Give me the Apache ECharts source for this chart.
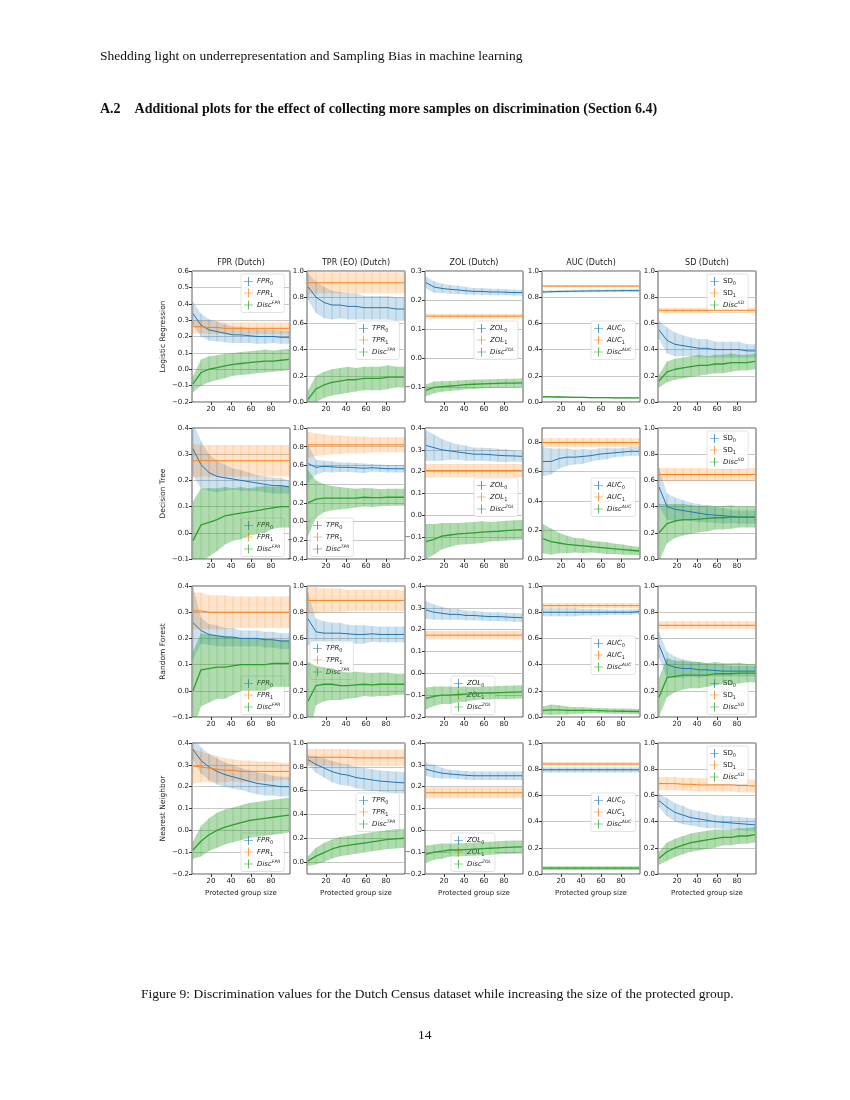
<!DOCTYPE html>
<html>
<head>
<meta charset="utf-8">
<script src="https://cdn.jsdelivr.net/npm/echarts@6/dist/echarts.min.js"></script>
<style>
  body { margin: 0; background: #fff; }
  #page { position: relative; width: 850px; height: 1100px; font-family: "Liberation Serif", serif; color: #111; }
  #chart { position: absolute; left: 0; top: 0; width: 850px; height: 1100px; }
  .t { position: absolute; white-space: nowrap; }
  .ct { position: absolute; width: 98px; text-align: center; font: 8px "DejaVu Sans", sans-serif; color: #222; }
</style>
</head>
<body>
<div id="page">
  <div id="chart"></div>
  <div class="t" style="left:100px;top:48px;font-size:13.5px;">Shedding light on underrepresentation and Sampling Bias in machine learning</div>
  <div class="t" style="left:100px;top:101px;font-size:14px;font-weight:bold;">A.2&nbsp;&nbsp;&nbsp;&nbsp;Additional plots for the effect of collecting more samples on discrimination (Section 6.4)</div>
  <div class="t" style="left:141px;top:986px;font-size:13.5px;">Figure 9: Discrimination values for the Dutch Census dataset while increasing the size of the protected group.</div>
  <div class="t" style="left:418px;top:1027px;font-size:13.5px;">14</div>
</div>
<script>
// x positions (protected group size)
const X = [2, 10, 18, 26, 34, 42, 50, 58, 66, 74, 82, 90, 98];

const METRICS = ["FPR", "TPR", "ZOL", "AUC", "SD"];
const COL_TITLES = ["FPR (Dutch)", "TPR (EO) (Dutch)", "ZOL (Dutch)", "AUC (Dutch)", "SD (Dutch)"];
const ROW_LABELS = ["Logistic Regression", "Decision Tree", "Random Forest", "Nearest Neighbor"];

// --- Logistic Regression ---
const lrFpr0 = [0.34,0.27,0.24,0.23,0.22,0.21,0.21,0.205,0.2,0.2,0.2,0.195,0.195];
const lrFpr0Err = [0.07,0.07,0.065,0.06,0.055,0.05,0.05,0.045,0.045,0.045,0.04,0.04,0.04];
const lrFpr1 = [0.26,0.26,0.255,0.255,0.25,0.25,0.25,0.25,0.25,0.25,0.25,0.25,0.25];
const lrFpr1Err = [0.04,0.04,0.04,0.04,0.035,0.035,0.035,0.035,0.035,0.035,0.035,0.035,0.035];
const lrFprD = [-0.09,-0.02,0.0,0.01,0.02,0.03,0.035,0.04,0.045,0.05,0.05,0.055,0.06];
const lrFprDErr = [0.05,0.08,0.08,0.075,0.075,0.07,0.07,0.07,0.07,0.07,0.065,0.065,0.065];

const lrTpr0 = [0.88,0.8,0.76,0.74,0.74,0.73,0.73,0.72,0.72,0.72,0.72,0.71,0.71];
const lrTpr0Err = [0.1,0.12,0.12,0.11,0.1,0.1,0.1,0.09,0.09,0.09,0.09,0.09,0.09];
const lrTpr1 = [0.91,0.91,0.91,0.91,0.91,0.91,0.91,0.91,0.91,0.91,0.91,0.91,0.91];
const lrTpr1Err = [0.09,0.08,0.08,0.08,0.08,0.08,0.08,0.08,0.08,0.08,0.08,0.08,0.08];
const lrTprD = [0.02,0.1,0.13,0.15,0.16,0.17,0.17,0.18,0.18,0.18,0.19,0.19,0.19];
const lrTprDErr = [0.07,0.1,0.1,0.1,0.1,0.1,0.09,0.09,0.09,0.09,0.09,0.08,0.08];

const lrZol0 = [0.26,0.245,0.24,0.237,0.235,0.232,0.23,0.23,0.228,0.228,0.227,0.226,0.226];
const lrZol0Err = [0.02,0.02,0.016,0.015,0.014,0.013,0.012,0.012,0.011,0.011,0.01,0.01,0.01];
const lrZol1 = [0.145,0.145,0.145,0.145,0.145,0.145,0.145,0.145,0.145,0.145,0.145,0.145,0.145];
const lrZol1Err = [0.008,0.008,0.008,0.008,0.008,0.008,0.008,0.008,0.008,0.008,0.008,0.008,0.008];
const lrZolD = [-0.11,-0.1,-0.097,-0.095,-0.093,-0.09,-0.089,-0.088,-0.087,-0.086,-0.085,-0.085,-0.084];
const lrZolDErr = [0.02,0.02,0.018,0.017,0.017,0.016,0.016,0.015,0.015,0.015,0.015,0.015,0.015];

const lrAuc0 = [0.84,0.842,0.844,0.845,0.846,0.847,0.848,0.848,0.849,0.849,0.85,0.85,0.85];
const lrAuc0Err = [0.012,0.01,0.01,0.01,0.01,0.01,0.01,0.01,0.01,0.01,0.01,0.01,0.01];
const lrAuc1 = [0.885,0.885,0.885,0.885,0.885,0.885,0.885,0.885,0.885,0.885,0.885,0.885,0.885];
const lrAuc1Err = [0.008,0.008,0.008,0.008,0.008,0.008,0.008,0.008,0.008,0.008,0.008,0.008,0.008];
const lrAucD = [0.04,0.039,0.038,0.037,0.036,0.035,0.034,0.033,0.033,0.032,0.032,0.031,0.031];
const lrAucDErr = [0.006,0.005,0.005,0.005,0.005,0.005,0.005,0.005,0.005,0.005,0.005,0.005,0.005];

const lrSd0 = [0.55,0.47,0.44,0.43,0.42,0.41,0.41,0.4,0.4,0.4,0.4,0.39,0.39];
const lrSd0Err = [0.07,0.1,0.09,0.08,0.07,0.07,0.07,0.06,0.06,0.06,0.06,0.05,0.05];
const lrSd1 = [0.7,0.7,0.7,0.7,0.7,0.7,0.7,0.7,0.7,0.7,0.7,0.7,0.7];
const lrSd1Err = [0.02,0.02,0.02,0.02,0.02,0.02,0.02,0.02,0.02,0.02,0.02,0.02,0.02];
const lrSdD = [0.16,0.23,0.25,0.26,0.27,0.28,0.28,0.29,0.29,0.3,0.3,0.3,0.31];
const lrSdDErr = [0.05,0.08,0.08,0.08,0.08,0.08,0.07,0.07,0.07,0.07,0.06,0.06,0.06];

// --- Decision Tree ---
const dtFpr0 = [0.32,0.26,0.23,0.215,0.21,0.205,0.2,0.195,0.19,0.185,0.18,0.18,0.175];
const dtFpr0Err = [0.1,0.09,0.07,0.06,0.05,0.04,0.04,0.035,0.03,0.03,0.03,0.03,0.025];
const dtFpr1 = [0.275,0.275,0.275,0.275,0.275,0.275,0.275,0.275,0.275,0.275,0.275,0.275,0.275];
const dtFpr1Err = [0.065,0.06,0.06,0.06,0.06,0.06,0.06,0.06,0.06,0.06,0.06,0.06,0.06];
const dtFprD = [-0.03,0.03,0.04,0.05,0.065,0.07,0.075,0.08,0.085,0.09,0.095,0.1,0.1];
const dtFprDErr = [0.15,0.14,0.13,0.12,0.11,0.1,0.1,0.09,0.09,0.09,0.08,0.08,0.08];

const dtTpr0 = [0.62,0.58,0.59,0.585,0.58,0.58,0.575,0.57,0.575,0.57,0.565,0.565,0.565];
const dtTpr0Err = [0.2,0.08,0.06,0.06,0.05,0.05,0.05,0.05,0.04,0.04,0.04,0.04,0.04];
const dtTpr1 = [0.82,0.82,0.82,0.82,0.82,0.82,0.82,0.82,0.82,0.82,0.82,0.82,0.82];
const dtTpr1Err = [0.14,0.12,0.11,0.1,0.1,0.09,0.09,0.09,0.08,0.08,0.08,0.08,0.08];
const dtTprD = [0.2,0.24,0.25,0.25,0.25,0.25,0.25,0.26,0.255,0.255,0.26,0.26,0.26];
const dtTprDErr = [0.35,0.2,0.15,0.13,0.12,0.11,0.1,0.1,0.1,0.09,0.09,0.09,0.09];

const dtZol0 = [0.32,0.31,0.3,0.295,0.29,0.285,0.28,0.28,0.278,0.275,0.273,0.272,0.27];
const dtZol0Err = [0.07,0.06,0.05,0.04,0.035,0.035,0.03,0.03,0.03,0.03,0.03,0.025,0.025];
const dtZol1 = [0.205,0.205,0.205,0.205,0.205,0.205,0.205,0.205,0.205,0.205,0.205,0.205,0.205];
const dtZol1Err = [0.03,0.03,0.03,0.03,0.03,0.03,0.03,0.03,0.03,0.03,0.03,0.03,0.03];
const dtZolD = [-0.12,-0.11,-0.095,-0.09,-0.085,-0.083,-0.08,-0.077,-0.075,-0.073,-0.07,-0.068,-0.066];
const dtZolDErr = [0.08,0.07,0.06,0.055,0.05,0.05,0.05,0.05,0.045,0.045,0.045,0.045,0.045];

const dtAuc0 = [0.67,0.67,0.69,0.7,0.7,0.705,0.71,0.72,0.725,0.73,0.735,0.74,0.74];
const dtAuc0Err = [0.1,0.09,0.07,0.06,0.05,0.05,0.04,0.04,0.04,0.03,0.03,0.03,0.03];
const dtAuc1 = [0.8,0.8,0.8,0.8,0.8,0.8,0.8,0.8,0.8,0.8,0.8,0.8,0.8];
const dtAuc1Err = [0.03,0.03,0.03,0.03,0.03,0.03,0.03,0.03,0.03,0.03,0.03,0.03,0.03];
const dtAucD = [0.14,0.12,0.11,0.1,0.095,0.09,0.085,0.08,0.075,0.07,0.065,0.06,0.055];
const dtAucDErr = [0.1,0.09,0.07,0.06,0.05,0.05,0.04,0.04,0.04,0.035,0.035,0.03,0.03];

const dtSd0 = [0.55,0.4,0.38,0.37,0.36,0.35,0.34,0.335,0.33,0.325,0.32,0.32,0.32];
const dtSd0Err = [0.15,0.1,0.09,0.08,0.07,0.07,0.06,0.06,0.06,0.05,0.05,0.05,0.05];
const dtSd1 = [0.645,0.645,0.645,0.645,0.645,0.645,0.645,0.645,0.645,0.645,0.645,0.645,0.645];
const dtSd1Err = [0.05,0.05,0.05,0.05,0.05,0.05,0.05,0.05,0.05,0.05,0.05,0.05,0.05];
const dtSdD = [0.2,0.27,0.29,0.3,0.3,0.305,0.31,0.315,0.315,0.32,0.32,0.32,0.32];
const dtSdDErr = [0.22,0.15,0.13,0.12,0.11,0.1,0.1,0.09,0.09,0.09,0.08,0.08,0.08];

// --- Random Forest ---
const rfFpr0 = [0.26,0.23,0.215,0.21,0.205,0.205,0.2,0.2,0.2,0.195,0.195,0.19,0.19];
const rfFpr0Err = [0.14,0.05,0.04,0.04,0.035,0.035,0.03,0.03,0.03,0.03,0.03,0.03,0.03];
const rfFpr1 = [0.305,0.305,0.3,0.3,0.3,0.3,0.3,0.3,0.3,0.3,0.3,0.3,0.3];
const rfFpr1Err = [0.07,0.07,0.065,0.065,0.065,0.06,0.06,0.06,0.06,0.06,0.06,0.06,0.06];
const rfFprD = [0.0,0.08,0.085,0.09,0.09,0.095,0.1,0.1,0.1,0.1,0.105,0.105,0.105];
const rfFprDErr = [0.15,0.14,0.13,0.12,0.12,0.11,0.1,0.1,0.1,0.1,0.09,0.09,0.09];

const rfTpr0 = [0.75,0.65,0.64,0.64,0.64,0.635,0.63,0.63,0.635,0.63,0.63,0.63,0.63];
const rfTpr0Err = [0.2,0.1,0.09,0.08,0.08,0.07,0.07,0.07,0.06,0.06,0.06,0.06,0.06];
const rfTpr1 = [0.89,0.89,0.89,0.89,0.89,0.89,0.89,0.89,0.89,0.89,0.89,0.89,0.89];
const rfTpr1Err = [0.1,0.1,0.09,0.09,0.09,0.08,0.08,0.08,0.08,0.08,0.08,0.08,0.08];
const rfTprD = [0.12,0.24,0.25,0.25,0.24,0.24,0.245,0.25,0.245,0.25,0.25,0.25,0.25];
const rfTprDErr = [0.3,0.15,0.13,0.12,0.11,0.1,0.1,0.09,0.09,0.09,0.09,0.08,0.08];

const rfZol0 = [0.29,0.28,0.275,0.27,0.27,0.265,0.265,0.262,0.26,0.26,0.258,0.256,0.255];
const rfZol0Err = [0.04,0.035,0.03,0.025,0.025,0.022,0.022,0.02,0.02,0.02,0.02,0.02,0.02];
const rfZol1 = [0.175,0.175,0.175,0.175,0.175,0.175,0.175,0.175,0.175,0.175,0.175,0.175,0.175];
const rfZol1Err = [0.02,0.02,0.02,0.02,0.02,0.02,0.02,0.02,0.02,0.02,0.02,0.02,0.02];
const rfZolD = [-0.115,-0.105,-0.1,-0.1,-0.097,-0.095,-0.093,-0.09,-0.09,-0.088,-0.087,-0.086,-0.085];
const rfZolDErr = [0.05,0.045,0.04,0.04,0.035,0.035,0.03,0.03,0.03,0.03,0.03,0.03,0.03];

const rfAuc0 = [0.8,0.8,0.8,0.8,0.8,0.8,0.8,0.8,0.8,0.8,0.8,0.8,0.805];
const rfAuc0Err = [0.03,0.03,0.03,0.03,0.03,0.025,0.025,0.025,0.02,0.02,0.02,0.02,0.02];
const rfAuc1 = [0.85,0.85,0.85,0.85,0.85,0.85,0.85,0.85,0.85,0.85,0.85,0.85,0.85];
const rfAuc1Err = [0.02,0.02,0.02,0.02,0.02,0.02,0.02,0.02,0.02,0.02,0.02,0.02,0.02];
const rfAucD = [0.05,0.055,0.055,0.05,0.05,0.05,0.05,0.048,0.046,0.045,0.044,0.043,0.042];
const rfAucDErr = [0.03,0.04,0.035,0.03,0.025,0.025,0.02,0.02,0.02,0.02,0.02,0.02,0.02];

const rfSd0 = [0.55,0.4,0.38,0.37,0.37,0.36,0.36,0.355,0.35,0.35,0.35,0.35,0.35];
const rfSd0Err = [0.1,0.1,0.08,0.07,0.06,0.06,0.05,0.05,0.05,0.04,0.04,0.04,0.04];
const rfSd1 = [0.7,0.7,0.7,0.7,0.7,0.7,0.7,0.7,0.7,0.7,0.7,0.7,0.7];
const rfSd1Err = [0.03,0.03,0.03,0.03,0.03,0.03,0.03,0.03,0.03,0.03,0.03,0.03,0.03];
const rfSdD = [0.15,0.3,0.31,0.32,0.32,0.32,0.32,0.33,0.33,0.33,0.335,0.335,0.335];
const rfSdDErr = [0.15,0.15,0.12,0.11,0.1,0.1,0.09,0.09,0.08,0.08,0.08,0.07,0.07];

// --- Nearest Neighbor ---
const nnFpr0 = [0.37,0.32,0.29,0.27,0.255,0.245,0.235,0.225,0.215,0.21,0.205,0.2,0.2];
const nnFpr0Err = [0.05,0.06,0.06,0.06,0.055,0.055,0.05,0.05,0.05,0.05,0.045,0.045,0.045];
const nnFpr1 = [0.295,0.29,0.285,0.28,0.275,0.275,0.27,0.27,0.27,0.27,0.27,0.27,0.27];
const nnFpr1Err = [0.08,0.07,0.065,0.06,0.055,0.05,0.05,0.05,0.045,0.045,0.045,0.04,0.04];
const nnFprD = [-0.09,-0.05,-0.02,0.0,0.015,0.025,0.035,0.045,0.05,0.055,0.06,0.065,0.07];
const nnFprDErr = [0.04,0.07,0.075,0.08,0.08,0.08,0.08,0.08,0.08,0.08,0.08,0.08,0.08];

const nnTpr0 = [0.86,0.82,0.79,0.76,0.74,0.73,0.71,0.7,0.69,0.68,0.675,0.67,0.665];
const nnTpr0Err = [0.04,0.07,0.08,0.09,0.09,0.09,0.09,0.09,0.09,0.09,0.09,0.09,0.09];
const nnTpr1 = [0.88,0.88,0.88,0.88,0.88,0.88,0.875,0.875,0.875,0.875,0.875,0.875,0.875];
const nnTpr1Err = [0.07,0.07,0.07,0.07,0.07,0.07,0.07,0.07,0.07,0.07,0.07,0.07,0.07];
const nnTprD = [0.01,0.05,0.08,0.11,0.13,0.14,0.15,0.16,0.17,0.18,0.19,0.195,0.2];
const nnTprDErr = [0.04,0.07,0.08,0.08,0.08,0.08,0.08,0.08,0.08,0.08,0.08,0.08,0.08];

const nnZol0 = [0.28,0.27,0.262,0.258,0.255,0.252,0.25,0.25,0.25,0.25,0.25,0.25,0.25];
const nnZol0Err = [0.03,0.03,0.025,0.02,0.02,0.02,0.02,0.02,0.02,0.02,0.02,0.02,0.02];
const nnZol1 = [0.172,0.172,0.172,0.172,0.172,0.172,0.172,0.172,0.172,0.172,0.172,0.172,0.172];
const nnZol1Err = [0.025,0.025,0.025,0.025,0.025,0.025,0.025,0.025,0.025,0.025,0.025,0.025,0.025];
const nnZolD = [-0.11,-0.1,-0.095,-0.09,-0.09,-0.088,-0.086,-0.084,-0.082,-0.08,-0.078,-0.077,-0.076];
const nnZolDErr = [0.04,0.035,0.035,0.03,0.03,0.03,0.03,0.03,0.03,0.03,0.03,0.03,0.03];

const nnAuc0 = [0.795,0.795,0.795,0.795,0.795,0.795,0.795,0.795,0.795,0.795,0.795,0.795,0.795];
const nnAuc0Err = [0.02,0.02,0.02,0.02,0.02,0.02,0.02,0.02,0.02,0.02,0.02,0.02,0.02];
const nnAuc1 = [0.84,0.84,0.84,0.84,0.84,0.84,0.84,0.84,0.84,0.84,0.84,0.84,0.84];
const nnAuc1Err = [0.015,0.015,0.015,0.015,0.015,0.015,0.015,0.015,0.015,0.015,0.015,0.015,0.015];
const nnAucD = [0.045,0.045,0.045,0.045,0.045,0.045,0.045,0.045,0.045,0.045,0.045,0.045,0.045];
const nnAucDErr = [0.015,0.015,0.015,0.015,0.015,0.015,0.015,0.015,0.015,0.015,0.015,0.015,0.015];

const nnSd0 = [0.56,0.51,0.47,0.45,0.43,0.42,0.41,0.4,0.395,0.39,0.385,0.38,0.375];
const nnSd0Err = [0.05,0.07,0.07,0.07,0.06,0.06,0.06,0.05,0.05,0.05,0.05,0.05,0.05];
const nnSd1 = [0.69,0.69,0.69,0.685,0.685,0.68,0.68,0.68,0.68,0.68,0.675,0.675,0.67];
const nnSd1Err = [0.05,0.05,0.05,0.05,0.05,0.05,0.05,0.05,0.05,0.05,0.05,0.05,0.05];
const nnSdD = [0.12,0.17,0.2,0.22,0.24,0.25,0.26,0.27,0.28,0.28,0.29,0.29,0.3];
const nnSdDErr = [0.05,0.07,0.07,0.07,0.07,0.07,0.07,0.07,0.06,0.06,0.06,0.06,0.06];

// y ranges per panel: [min, max, firstTick, lastTick, step]
const Y_RANGES = [
  [[-0.2,0.6,-0.2,0.6,0.1],[0,1,0,1,0.2],[-0.15,0.3,-0.1,0.3,0.1],[0,1,0,1,0.2],[0,1,0,1,0.2]],
  [[-0.1,0.4,-0.1,0.4,0.1],[-0.4,1,-0.4,1,0.2],[-0.2,0.4,-0.2,0.4,0.1],[0,0.9,0,0.8,0.2],[0,1,0,1,0.2]],
  [[-0.1,0.4,-0.1,0.4,0.1],[0,1,0,1,0.2],[-0.2,0.4,-0.2,0.4,0.1],[0,1,0,1,0.2],[0,1,0,1,0.2]],
  [[-0.2,0.4,-0.2,0.4,0.1],[-0.1,1,0,1,0.2],[-0.2,0.4,-0.2,0.4,0.1],[0,1,0,1,0.2],[0,1,0,1,0.2]]
];
// legend placement per panel
const LEGEND_POS = [
  ["tr","mr","mr","mr","tr"],
  ["br","bl","mr","mr","tr"],
  ["br","ml","bc","mr","br"],
  ["br","mr","bc","mr","tr"]
];

const PANELS = [
  [[[lrFpr0,lrFpr0Err],[lrFpr1,lrFpr1Err],[lrFprD,lrFprDErr]],
   [[lrTpr0,lrTpr0Err],[lrTpr1,lrTpr1Err],[lrTprD,lrTprDErr]],
   [[lrZol0,lrZol0Err],[lrZol1,lrZol1Err],[lrZolD,lrZolDErr]],
   [[lrAuc0,lrAuc0Err],[lrAuc1,lrAuc1Err],[lrAucD,lrAucDErr]],
   [[lrSd0,lrSd0Err],[lrSd1,lrSd1Err],[lrSdD,lrSdDErr]]],
  [[[dtFpr0,dtFpr0Err],[dtFpr1,dtFpr1Err],[dtFprD,dtFprDErr]],
   [[dtTpr0,dtTpr0Err],[dtTpr1,dtTpr1Err],[dtTprD,dtTprDErr]],
   [[dtZol0,dtZol0Err],[dtZol1,dtZol1Err],[dtZolD,dtZolDErr]],
   [[dtAuc0,dtAuc0Err],[dtAuc1,dtAuc1Err],[dtAucD,dtAucDErr]],
   [[dtSd0,dtSd0Err],[dtSd1,dtSd1Err],[dtSdD,dtSdDErr]]],
  [[[rfFpr0,rfFpr0Err],[rfFpr1,rfFpr1Err],[rfFprD,rfFprDErr]],
   [[rfTpr0,rfTpr0Err],[rfTpr1,rfTpr1Err],[rfTprD,rfTprDErr]],
   [[rfZol0,rfZol0Err],[rfZol1,rfZol1Err],[rfZolD,rfZolDErr]],
   [[rfAuc0,rfAuc0Err],[rfAuc1,rfAuc1Err],[rfAucD,rfAucDErr]],
   [[rfSd0,rfSd0Err],[rfSd1,rfSd1Err],[rfSdD,rfSdDErr]]],
  [[[nnFpr0,nnFpr0Err],[nnFpr1,nnFpr1Err],[nnFprD,nnFprDErr]],
   [[nnTpr0,nnTpr0Err],[nnTpr1,nnTpr1Err],[nnTprD,nnTprDErr]],
   [[nnZol0,nnZol0Err],[nnZol1,nnZol1Err],[nnZolD,nnZolDErr]],
   [[nnAuc0,nnAuc0Err],[nnAuc1,nnAuc1Err],[nnAucD,nnAucDErr]],
   [[nnSd0,nnSd0Err],[nnSd1,nnSd1Err],[nnSdD,nnSdDErr]]]
];

const COLORS = ["#1f77b4", "#ff7f0e", "#2ca02c"];
const BAND = ["rgba(31,119,180,0.22)", "rgba(255,127,14,0.22)", "rgba(44,160,44,0.38)"];
const GRID_LEFT = [192, 307, 425, 542, 658];
const GRID_TOP = [271, 428, 586, 743];
const GW = 98, GH = 131;
const LW = 46, LH = 38;
const CROSS = "path://M4.6,0h0.8v10h-0.8z M0,4.6h10v0.8h-10z";

const fmt = (v) => {
  const s = Math.abs(v).toFixed(1);
  return (v < -1e-9 ? "\u2212" : "") + s;
};

function labelFor(metric, k) {
  const base = metric === "SD" ? "{n|SD}" : "{i|" + metric + "}";
  if (k === 0) return base + "{sub|0}";
  if (k === 1) return base + "{sub|1}";
  return "{i|Disc}{sup|" + metric + "}";
}

function legendXY(pos, r, c) {
  const l = GRID_LEFT[c], t = GRID_TOP[r];
  const right = l + GW - LW - 3, left = l + 3, mid = l + (GW - LW) / 2;
  if (pos === "tr") return { left: right, top: t + 3 };
  if (pos === "mr") return { left: right, top: t + 50 };
  if (pos === "ml") return { left: left, top: t + 55 };
  if (pos === "br") return { left: right, top: t + GH - LH - 3 };
  if (pos === "bl") return { left: left, top: t + GH - LH - 3 };
  return { left: mid, top: t + GH - LH - 3 };
}

const grid = [], xAxis = [], yAxis = [], series = [], legend = [], labelMap = {};
let gi = 0;
for (let r = 0; r < 4; r++) {
  for (let c = 0; c < 5; c++) {
    grid.push({ left: GRID_LEFT[c], top: GRID_TOP[r], width: GW, height: GH,
      show: true, borderColor: "#333", borderWidth: 0.8, backgroundColor: "#fff" });
    xAxis.push({
      gridIndex: gi, type: "value", min: 1, max: 99,
      name: r === 3 ? "Protected group size" : "", nameLocation: "middle", nameGap: 16,
      nameTextStyle: { fontSize: 7, color: "#222", fontFamily: "DejaVu Sans" },
      axisLine: { show: false, onZero: false },
      axisTick: { customValues: [20, 40, 60, 80], length: 3, lineStyle: { color: "#333" } },
      axisLabel: { customValues: [20, 40, 60, 80], fontSize: 7, color: "#222", margin: 4, fontFamily: "DejaVu Sans" },
      splitLine: { show: false }
    });
    const yr = Y_RANGES[r][c];
    const ticks = [];
    for (let v = yr[2]; v <= yr[3] + 1e-9; v += yr[4]) ticks.push(Math.round(v * 100) / 100);
    yAxis.push({
      gridIndex: gi, type: "value", min: yr[0], max: yr[1],
      name: c === 0 ? ROW_LABELS[r] : "", nameLocation: "middle", nameGap: 25, nameRotate: 90,
      nameTextStyle: { fontSize: 7.5, color: "#222", fontFamily: "DejaVu Sans" },
      axisLine: { show: false, onZero: false },
      axisTick: { show: true, customValues: ticks, length: 3, lineStyle: { color: "#333" } },
      axisLabel: { customValues: ticks, fontSize: 7, color: "#222", margin: 3, formatter: fmt, fontFamily: "DejaVu Sans" },
      splitLine: { show: true, lineStyle: { color: "#b8b8b8", width: 0.8 } }
    });
    const names = [];
    PANELS[r][c].forEach(([mean, err], k) => {
      const nm = "p" + gi + "s" + k;
      labelMap[nm] = labelFor(METRICS[c], k);
      names.push({ name: nm, icon: CROSS });
      series.push({
        type: "custom", xAxisIndex: gi, yAxisIndex: gi, clip: true, silent: true, z: 2 + k,
        data: [[X[0], mean[0]]],
        renderItem: (params, api) => {
          const up = [], lo = [], bars = [];
          X.forEach((x, i) => {
            const a = api.coord([x, mean[i] + err[i]]);
            const b = api.coord([x, mean[i] - err[i]]);
            up.push(a); lo.push(b);
            bars.push({ type: "line", shape: { x1: a[0], y1: a[1], x2: b[0], y2: b[1] },
              style: { stroke: COLORS[k], opacity: 0.3, lineWidth: 0.8 } });
          });
          return { type: "group", children: [
            { type: "polygon", shape: { points: up.concat(lo.reverse()) }, style: { fill: BAND[k] } }
          ].concat(bars) };
        }
      });
      series.push({
        name: nm, type: "line", xAxisIndex: gi, yAxisIndex: gi, z: 5 + k,
        data: X.map((x, i) => [x, mean[i]]),
        showSymbol: false, silent: true,
        color: COLORS[k],
        lineStyle: { width: k === 2 ? 1.3 : 1, color: COLORS[k] }
      });
    });
    const p = legendXY(LEGEND_POS[r][c], r, c);
    legend.push({
      data: names, left: p.left, top: p.top, orient: "vertical",
      itemWidth: 11, itemHeight: 9, itemGap: 2, padding: [3, 4, 3, 3],
      backgroundColor: "rgba(255,255,255,0.85)", borderColor: "#d0d0d0", borderWidth: 0.6, borderRadius: 2,
      selectedMode: false,
      formatter: (n) => labelMap[n],
      textStyle: {
        fontSize: 7, color: "#222", fontFamily: "DejaVu Sans", padding: [0, 0, 0, -2],
        rich: {
          i: { fontSize: 7, fontStyle: "italic", fontFamily: "DejaVu Sans", color: "#222" },
          n: { fontSize: 7, fontFamily: "DejaVu Sans", color: "#222" },
          sub: { fontSize: 5, fontFamily: "DejaVu Sans", color: "#222", padding: [5, 0, 0, 0] },
          sup: { fontSize: 4.5, fontStyle: "italic", fontFamily: "DejaVu Sans", color: "#222", padding: [0, 0, 5, 0] }
        }
      }
    });
    gi++;
  }
}

const page = document.getElementById("page");
COL_TITLES.forEach((t, c) => {
  const d = document.createElement("div");
  d.className = "ct";
  d.style.left = GRID_LEFT[c] + "px";
  d.style.top = (GRID_TOP[0] - 13) + "px";
  d.textContent = t;
  page.appendChild(d);
});

const chart = echarts.init(document.getElementById("chart"), null, { renderer: "canvas" });
chart.setOption({ animation: false, grid, xAxis, yAxis, series, legend });
</script>
</body>
</html>
